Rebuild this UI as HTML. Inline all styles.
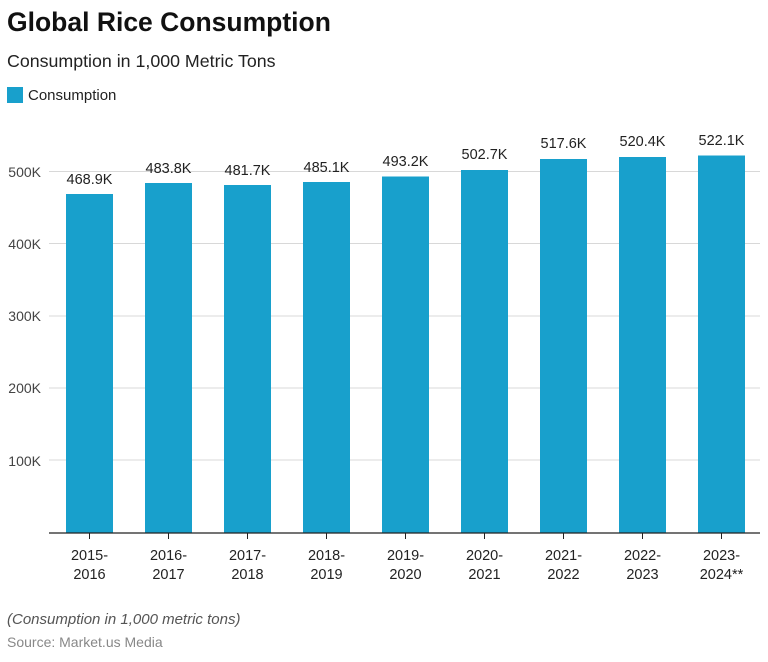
<!DOCTYPE html><html><head><style>body{margin:0;background:#fff;font-family:"Liberation Sans",sans-serif}</style></head><body>
<svg width="768" height="657" xmlns="http://www.w3.org/2000/svg" font-family="Liberation Sans, sans-serif">
<text x="7" y="31" font-size="26.5" font-weight="bold" fill="#111">Global Rice Consumption</text>
<text x="7" y="67" font-size="17.8" fill="#222">Consumption in 1,000 Metric Tons</text>
<rect x="7" y="87" width="16" height="16" fill="#18a0cc"/>
<text x="28" y="100" font-size="15" fill="#222">Consumption</text>
<g stroke="#d8d8d8" stroke-width="1">
<line x1="49" x2="760" y1="171.5" y2="171.5"/><line x1="49" x2="760" y1="243.5" y2="243.5"/><line x1="49" x2="760" y1="316" y2="316"/><line x1="49" x2="760" y1="388" y2="388"/><line x1="49" x2="760" y1="460" y2="460"/></g>
<g font-size="14" fill="#444" text-anchor="end">
<text x="41" y="177">500K</text><text x="41" y="249">400K</text><text x="41" y="321">300K</text><text x="41" y="393">200K</text><text x="41" y="466">100K</text></g>
<g fill="#18a0cc">
<rect x="66" y="194" width="47" height="339"/>
<rect x="145" y="183" width="47" height="350"/>
<rect x="224" y="185" width="47" height="348"/>
<rect x="303" y="182" width="47" height="351"/>
<rect x="382" y="176.5" width="47" height="356.5"/>
<rect x="461" y="170" width="47" height="363"/>
<rect x="540" y="159" width="47" height="374"/>
<rect x="619" y="157" width="47" height="376"/>
<rect x="698" y="155.5" width="47" height="377.5"/></g>
<g font-size="14.5" fill="#222" text-anchor="middle">
<text x="89.5" y="184">468.9K</text><text x="168.5" y="173">483.8K</text><text x="247.5" y="175">481.7K</text><text x="326.5" y="172">485.1K</text><text x="405.5" y="166">493.2K</text><text x="484.5" y="159">502.7K</text><text x="563.5" y="148">517.6K</text><text x="642.5" y="146">520.4K</text><text x="721.5" y="145">522.1K</text></g>
<line x1="49" x2="760" y1="533" y2="533" stroke="#222" stroke-width="1.2"/>
<g stroke="#222"><line x1="89.5" x2="89.5" y1="533" y2="539"/><line x1="168.5" x2="168.5" y1="533" y2="539"/><line x1="247.5" x2="247.5" y1="533" y2="539"/><line x1="326.5" x2="326.5" y1="533" y2="539"/><line x1="405.5" x2="405.5" y1="533" y2="539"/><line x1="484.5" x2="484.5" y1="533" y2="539"/><line x1="563.5" x2="563.5" y1="533" y2="539"/><line x1="642.5" x2="642.5" y1="533" y2="539"/><line x1="721.5" x2="721.5" y1="533" y2="539"/></g>
<g font-size="14.5" fill="#222" text-anchor="middle">
<text x="89.5" y="560">2015-</text><text x="89.5" y="579">2016</text>
<text x="168.5" y="560">2016-</text><text x="168.5" y="579">2017</text>
<text x="247.5" y="560">2017-</text><text x="247.5" y="579">2018</text>
<text x="326.5" y="560">2018-</text><text x="326.5" y="579">2019</text>
<text x="405.5" y="560">2019-</text><text x="405.5" y="579">2020</text>
<text x="484.5" y="560">2020-</text><text x="484.5" y="579">2021</text>
<text x="563.5" y="560">2021-</text><text x="563.5" y="579">2022</text>
<text x="642.5" y="560">2022-</text><text x="642.5" y="579">2023</text>
<text x="721.5" y="560">2023-</text><text x="721.5" y="579">2024**</text></g>
<text x="7" y="624" font-size="15" font-style="italic" fill="#555">(Consumption in 1,000 metric tons)</text>
<text x="7" y="647" font-size="14" fill="#888">Source: Market.us Media</text>
</svg></body></html>
